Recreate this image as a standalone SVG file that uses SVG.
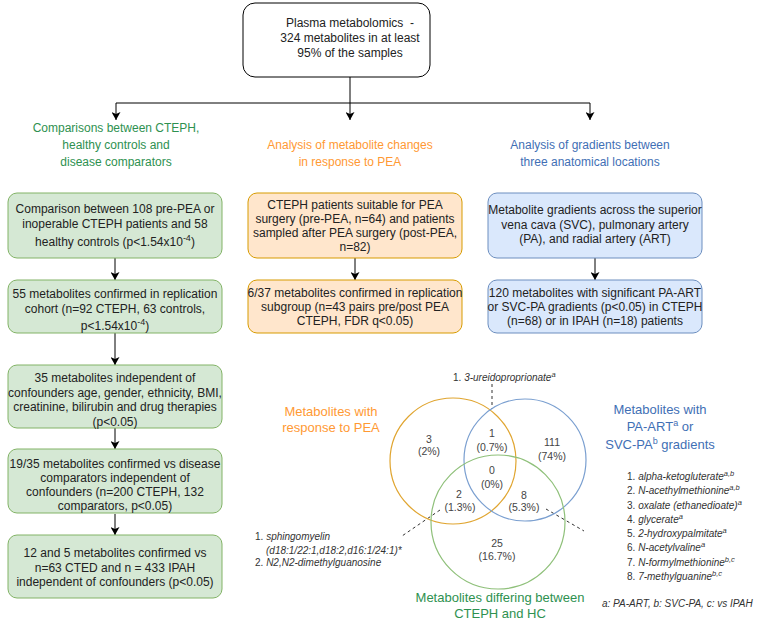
<svg xmlns="http://www.w3.org/2000/svg" width="767" height="623" viewBox="0 0 767 623">
<style>
text{font-family:"Liberation Sans",Arial,sans-serif;}
.bt{font-size:12px;fill:#222;text-anchor:middle;}
.g{fill:#d5e8d4;stroke:#82b366;stroke-width:1;}
.o{fill:#ffe6cc;stroke:#d79b00;stroke-width:1;}
.b{fill:#dae8fc;stroke:#6c8ebf;stroke-width:1;}
.w{fill:#fff;stroke:#000;stroke-width:1;}
.h{font-size:12px;text-anchor:middle;}
.hg{fill:#2e9150;}
.ho{fill:#ff9933;}
.hb{fill:#3f6fb5;}
.c{stroke:#000;stroke-width:1;fill:none;}
.d{stroke:#333;stroke-width:1;stroke-dasharray:3,3;fill:none;}
.vn{font-size:10.5px;fill:#444;text-anchor:middle;}
.li{font-size:10px;fill:#333;}
.it{font-style:italic;}
.vl{font-size:13px;text-anchor:middle;}
</style>
<defs>
<marker id="ar" markerWidth="8" markerHeight="9" refX="8" refY="4.5" orient="auto" markerUnits="userSpaceOnUse">
<path d="M0,0 L8,4.5 L0,9 L2,4.5 Z" fill="#000"/>
</marker>
</defs>

<g id="top">
<rect class="w" x="243" y="3" width="187" height="74" rx="12"/>
<text class="bt" x="350" y="27">Plasma metabolomics&#160; -</text>
<text class="bt" x="350" y="42">324 metabolites in at least</text>
<text class="bt" x="350" y="57">95% of the samples</text>
</g>

<g id="connectors">
<path class="c" d="M350,77 V103"/>
<path class="c" d="M116,103 H590"/>
<path class="c" d="M116,103 V120" marker-end="url(#ar)"/>
<path class="c" d="M350,103 V120" marker-end="url(#ar)"/>
<path class="c" d="M590,103 V120" marker-end="url(#ar)"/>
<path class="c" d="M115,258 V280" marker-end="url(#ar)"/>
<path class="c" d="M115,333 V365" marker-end="url(#ar)"/>
<path class="c" d="M115,428 V449" marker-end="url(#ar)"/>
<path class="c" d="M115,514 V535" marker-end="url(#ar)"/>
<path class="c" d="M355,258 V280" marker-end="url(#ar)"/>
<path class="c" d="M595,258 V280" marker-end="url(#ar)"/>
<path class="d" d="M492,384 V409"/>
<path class="d" d="M440,510 L402,536"/>
<path class="d" d="M546,509 L584,531"/>
</g>

<g id="header-left">
<text class="h hg" x="116" y="132">Comparisons between CTEPH,</text>
<text class="h hg" x="116" y="149">healthy controls and</text>
<text class="h hg" x="116" y="166">disease comparators</text>
</g>
<g id="header-mid">
<text class="h ho" x="350" y="149">Analysis of metabolite changes</text>
<text class="h ho" x="350" y="166">in response to PEA</text>
</g>
<g id="header-right">
<text class="h hb" x="590" y="149">Analysis of gradients between</text>
<text class="h hb" x="590" y="166">three anatomical locations</text>
</g>

<g id="l1">
<rect class="g" x="8" y="193" width="214" height="65" rx="9"/>
<text class="bt" x="115" y="213">Comparison between 108 pre-PEA or</text>
<text class="bt" x="115" y="228">inoperable CTEPH patients and 58</text>
<text class="bt" x="115" y="246">healthy controls (p&lt;1.54x10<tspan dy="-5" font-size="9">-4</tspan><tspan dy="5">)</tspan></text>
</g>
<g id="l2">
<rect class="g" x="8" y="280" width="214" height="53" rx="9"/>
<text class="bt" x="115" y="298">55 metabolites confirmed in replication</text>
<text class="bt" x="115" y="313">cohort (n=92 CTEPH, 63 controls,</text>
<text class="bt" x="115" y="330">p&lt;1.54x10<tspan dy="-5" font-size="9">-4</tspan><tspan dy="5">)</tspan></text>
</g>
<g id="l3">
<rect class="g" x="8" y="365" width="214" height="63" rx="9"/>
<text class="bt" x="115" y="382">35 metabolites independent of</text>
<text class="bt" x="115" y="396.5">confounders age, gender, ethnicity, BMI,</text>
<text class="bt" x="115" y="411">creatinine, bilirubin and drug therapies</text>
<text class="bt" x="115" y="425.5">(p&lt;0.05)</text>
</g>
<g id="l4">
<rect class="g" x="8" y="449" width="214" height="64" rx="9"/>
<text class="bt" x="115" y="468">19/35 metabolites confirmed vs disease</text>
<text class="bt" x="115" y="482">comparators independent of</text>
<text class="bt" x="115" y="496">confounders (n=200 CTEPH, 132</text>
<text class="bt" x="115" y="510">comparators, p&lt;0.05)</text>
</g>
<g id="l5">
<rect class="g" x="8" y="535" width="214" height="63" rx="9"/>
<text class="bt" x="115" y="557">12 and 5 metabolites confirmed vs</text>
<text class="bt" x="115" y="571.5">n=63 CTED and n = 433 IPAH</text>
<text class="bt" x="115" y="586">independent of confounders (p&lt;0.05)</text>
</g>

<g id="m1">
<rect class="o" x="248" y="193" width="214" height="65" rx="9"/>
<text class="bt" x="355" y="209">CTEPH patients suitable for PEA</text>
<text class="bt" x="355" y="223">surgery (pre-PEA, n=64) and patients</text>
<text class="bt" x="355" y="237">sampled after PEA surgery (post-PEA,</text>
<text class="bt" x="355" y="251">n=82)</text>
</g>
<g id="m2">
<rect class="o" x="248" y="280" width="214" height="53" rx="9"/>
<text class="bt" x="355" y="297">6/37 metabolites confirmed in replication</text>
<text class="bt" x="355" y="311">subgroup (n=43 pairs pre/post PEA</text>
<text class="bt" x="355" y="325">CTEPH, FDR q&lt;0.05)</text>
</g>

<g id="r1">
<rect class="b" x="488" y="193" width="214" height="65" rx="9"/>
<text class="bt" x="595" y="214">Metabolite gradients across the superior</text>
<text class="bt" x="595" y="228.5">vena cava (SVC), pulmonary artery</text>
<text class="bt" x="595" y="243">(PA), and radial artery (ART)</text>
</g>
<g id="r2">
<rect class="b" x="488" y="280" width="214" height="53" rx="9"/>
<text class="bt" x="595" y="297">120 metabolites with significant PA-ART</text>
<text class="bt" x="595" y="311">or SVC-PA gradients (p&lt;0.05) in CTEPH</text>
<text class="bt" x="595" y="325">(n=68) or in IPAH (n=18) patients</text>
</g>

<g id="venn">
<circle cx="453" cy="461" r="63" fill="none" stroke="#e0a530" stroke-width="1.2"/>
<circle cx="525" cy="460" r="61" fill="none" stroke="#7a9fd0" stroke-width="1.2"/>
<circle cx="498" cy="522" r="67" fill="none" stroke="#8fc07a" stroke-width="1.2"/>
<text class="vn" x="429" y="443">3</text><text class="vn" x="429" y="455">(2%)</text>
<text class="vn" x="492" y="437">1</text><text class="vn" x="492" y="451">(0.7%)</text>
<text class="vn" x="492" y="474">0</text><text class="vn" x="492" y="488">(0%)</text>
<text class="vn" x="459" y="498">2</text><text class="vn" x="460" y="511">(1.3%)</text>
<text class="vn" x="524" y="499">8</text><text class="vn" x="524" y="511">(5.3%)</text>
<text class="vn" x="497" y="547">25</text><text class="vn" x="497" y="560">(16.7%)</text>
<text class="vn" x="552" y="446">111</text><text class="vn" x="552" y="460">(74%)</text>
</g>

<g id="label-pea">
<text class="vl ho" x="331" y="416">Metabolites with</text>
<text class="vl ho" x="331" y="432">response to PEA</text>
</g>
<g id="label-grad">
<text class="vl hb" x="660" y="414">Metabolites with</text>
<text class="vl hb" x="660" y="431">PA-ART<tspan dy="-5" font-size="9">a</tspan><tspan dy="5"> or</tspan></text>
<text class="vl hb" x="660" y="449">SVC-PA<tspan dy="-5" font-size="9">b</tspan><tspan dy="5"> gradients</tspan></text>
</g>
<g id="label-hc">
<text class="vl hg" x="500" y="602">Metabolites differing between</text>
<text class="vl hg" x="500" y="618">CTEPH and HC</text>
</g>

<g id="list-top">
<text class="li" x="453" y="381">1. <tspan class="it">3-ureidoproprionate</tspan><tspan dy="-4" font-size="7.5" class="it">a</tspan></text>
</g>
<g id="list-left">
<text class="li" x="255" y="540">1. <tspan class="it">sphingomyelin</tspan></text>
<text class="li it" x="266" y="554">(d18:1/22:1,d18:2,d16:1/24:1)*</text>
<text class="li" x="255" y="566">2. <tspan class="it">N2,N2-dimethylguanosine</tspan></text>
</g>
<g id="list-right">
<text class="li" x="627" y="480">1. <tspan class="it">alpha-ketogluterate</tspan><tspan dy="-4" font-size="7.5" class="it">a,b</tspan></text>
<text class="li" x="627" y="494">2. <tspan class="it">N-acethylmethionine</tspan><tspan dy="-4" font-size="7.5" class="it">a,b</tspan></text>
<text class="li" x="627" y="508.5">3. <tspan class="it">oxalate (ethanedioate)</tspan><tspan dy="-4" font-size="7.5" class="it">a</tspan></text>
<text class="li" x="627" y="522.5">4. <tspan class="it">glycerate</tspan><tspan dy="-4" font-size="7.5" class="it">a</tspan></text>
<text class="li" x="627" y="537">5. <tspan class="it">2-hydroxypalmitate</tspan><tspan dy="-4" font-size="7.5" class="it">a</tspan></text>
<text class="li" x="627" y="551">6. <tspan class="it">N-acetylvaline</tspan><tspan dy="-4" font-size="7.5" class="it">a</tspan></text>
<text class="li" x="627" y="565.5">7. <tspan class="it">N-formylmethionine</tspan><tspan dy="-4" font-size="7.5" class="it">b,c</tspan></text>
<text class="li" x="627" y="579.5">8. <tspan class="it">7-methylguanine</tspan><tspan dy="-4" font-size="7.5" class="it">b,c</tspan></text>
<text class="li it" x="602" y="607">a: PA-ART, b: SVC-PA, c: vs IPAH</text>
</g>
</svg>
